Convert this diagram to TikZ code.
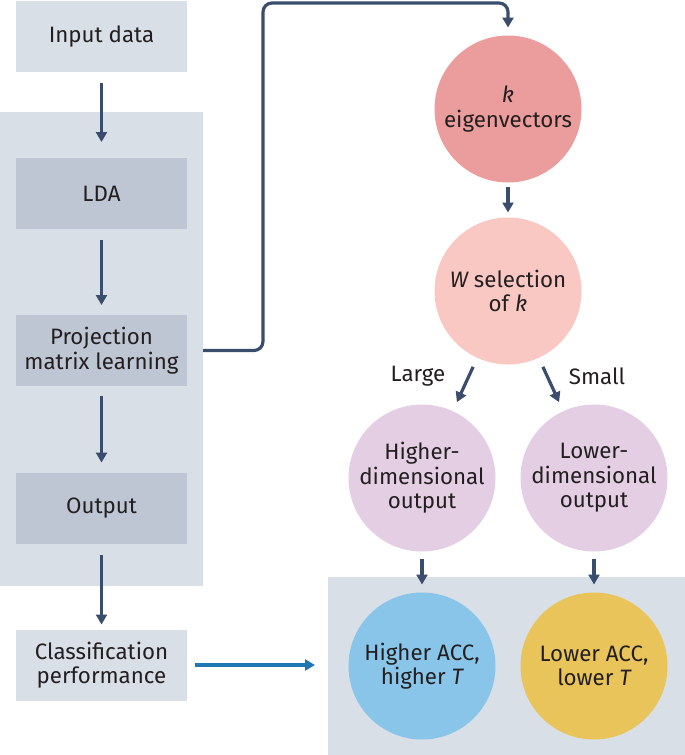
\documentclass[tikz,border=0pt]{standalone}
\usepackage{fontspec}
\setmainfont{Fira Sans}
\usetikzlibrary{arrows.meta}
\definecolor{panel}{HTML}{D9DFE7}
\definecolor{darkbox}{HTML}{BEC5D3}
\definecolor{arr}{HTML}{3B4D6C}
\definecolor{bluearr}{HTML}{1F77B3}
\definecolor{txt}{HTML}{231F20}
\definecolor{keigc}{HTML}{EB9C9C}
\definecolor{wselc}{HTML}{F9C8C3}
\definecolor{purp}{HTML}{E4CEE4}
\definecolor{bluec}{HTML}{89C5E8}
\definecolor{yell}{HTML}{E8C45A}
\tikzset{
  lightbox/.style={fill=panel, minimum width=171pt, minimum height=71pt, align=center, inner sep=0pt, outer sep=0pt, text=txt},
  darkbx/.style={fill=darkbox, minimum width=171pt, minimum height=71pt, align=center, inner sep=0pt, outer sep=0pt, text=txt},
  bg/.style={fill=panel, inner sep=0pt, outer sep=0pt},
  circ/.style={circle, minimum size=147pt, inner sep=0pt, outer sep=0pt, align=center, text=txt},
  arrow/.style={draw=arr, line width=3.2pt, -{Triangle[width=11pt,length=10pt]}},
  barrow/.style={draw=bluearr, line width=3.2pt, -{Triangle[width=11pt,length=10pt]}},
  lbl/.style={text=txt, inner sep=0pt}
}
\begin{document}
\begin{tikzpicture}[x=1pt,y=-1pt, font=\fontsize{22.3}{24.5}\selectfont]
\useasboundingbox (0,0) rectangle (685,755);
% background panels
\node[bg, minimum width=203pt, minimum height=474pt] (lpanel) at (101.5,349) {};
\node[bg, minimum width=357pt, minimum height=178pt] (rpanel) at (506.5,666) {};
% left column
\node[lightbox] (input) at (101.5,36.5) {Input data};
\node[darkbx] (lda) at (101.5,193.5) {LDA};
\node[darkbx] (proj) at (101.5,350.5) {Projection\\matrix learning};
\node[darkbx] (out) at (101.5,508) {Output};
\node[lightbox] (cls) at (101.5,665) {Classification\\performance};
% circles
\node[circ, fill=keigc] (keig) at (508,109) {\itshape k\\eigenvectors};
\node[circ, fill=wselc] (wsel) at (508,291) {\itshape W\upshape{} selection\\of \itshape k};
\node[circ, fill=purp] (hd) at (422,478) {Higher-\\dimensional\\output};
\node[circ, fill=purp] (ld) at (594,478) {Lower-\\dimensional\\output};
\node[circ, fill=bluec] (hacc) at (422,666) {Higher ACC,\\higher \itshape T};
\node[circ, fill=yell] (lacc) at (594,666) {Lower ACC,\\lower \itshape T};
% labels
\node[lbl] (large) at (418,376) {Large};
\node[lbl] (small) at (597,376) {Small};
% arrows left
\draw[arrow] ([yshift=-11pt]input.south) -- ([yshift=16pt]lda.north);
\draw[arrow] ([yshift=-11pt]lda.south) -- ([yshift=10pt]proj.north);
\draw[arrow] ([yshift=-10pt]proj.south) -- ([yshift=10pt]out.north);
\draw[arrow] ([yshift=-11pt]out.south) -- ([yshift=5pt]cls.north);
\draw[barrow] ([xshift=8pt]cls.east) -- ([xshift=-13pt]cls.east -| rpanel.west);
% connector
\draw[arrow, rounded corners=9pt] (proj.east -| lpanel.east) -- (263,350.5) -- (263,3) -- (508,3) -- ([yshift=8pt]keig.north);
% right arrows
\draw[arrow] ([yshift=-4pt]keig.south) -- ([yshift=5pt]wsel.north);
\draw[arrow, shorten <=10pt, shorten >=10pt] (wsel) -- (hd);
\draw[arrow, shorten <=10pt, shorten >=10pt] (wsel) -- (ld);
\draw[arrow] ([yshift=-7pt]hd.south) -- ([yshift=8pt]hacc.north);
\draw[arrow] ([yshift=-7pt]ld.south) -- ([yshift=8pt]lacc.north);
\end{tikzpicture}
\end{document}
